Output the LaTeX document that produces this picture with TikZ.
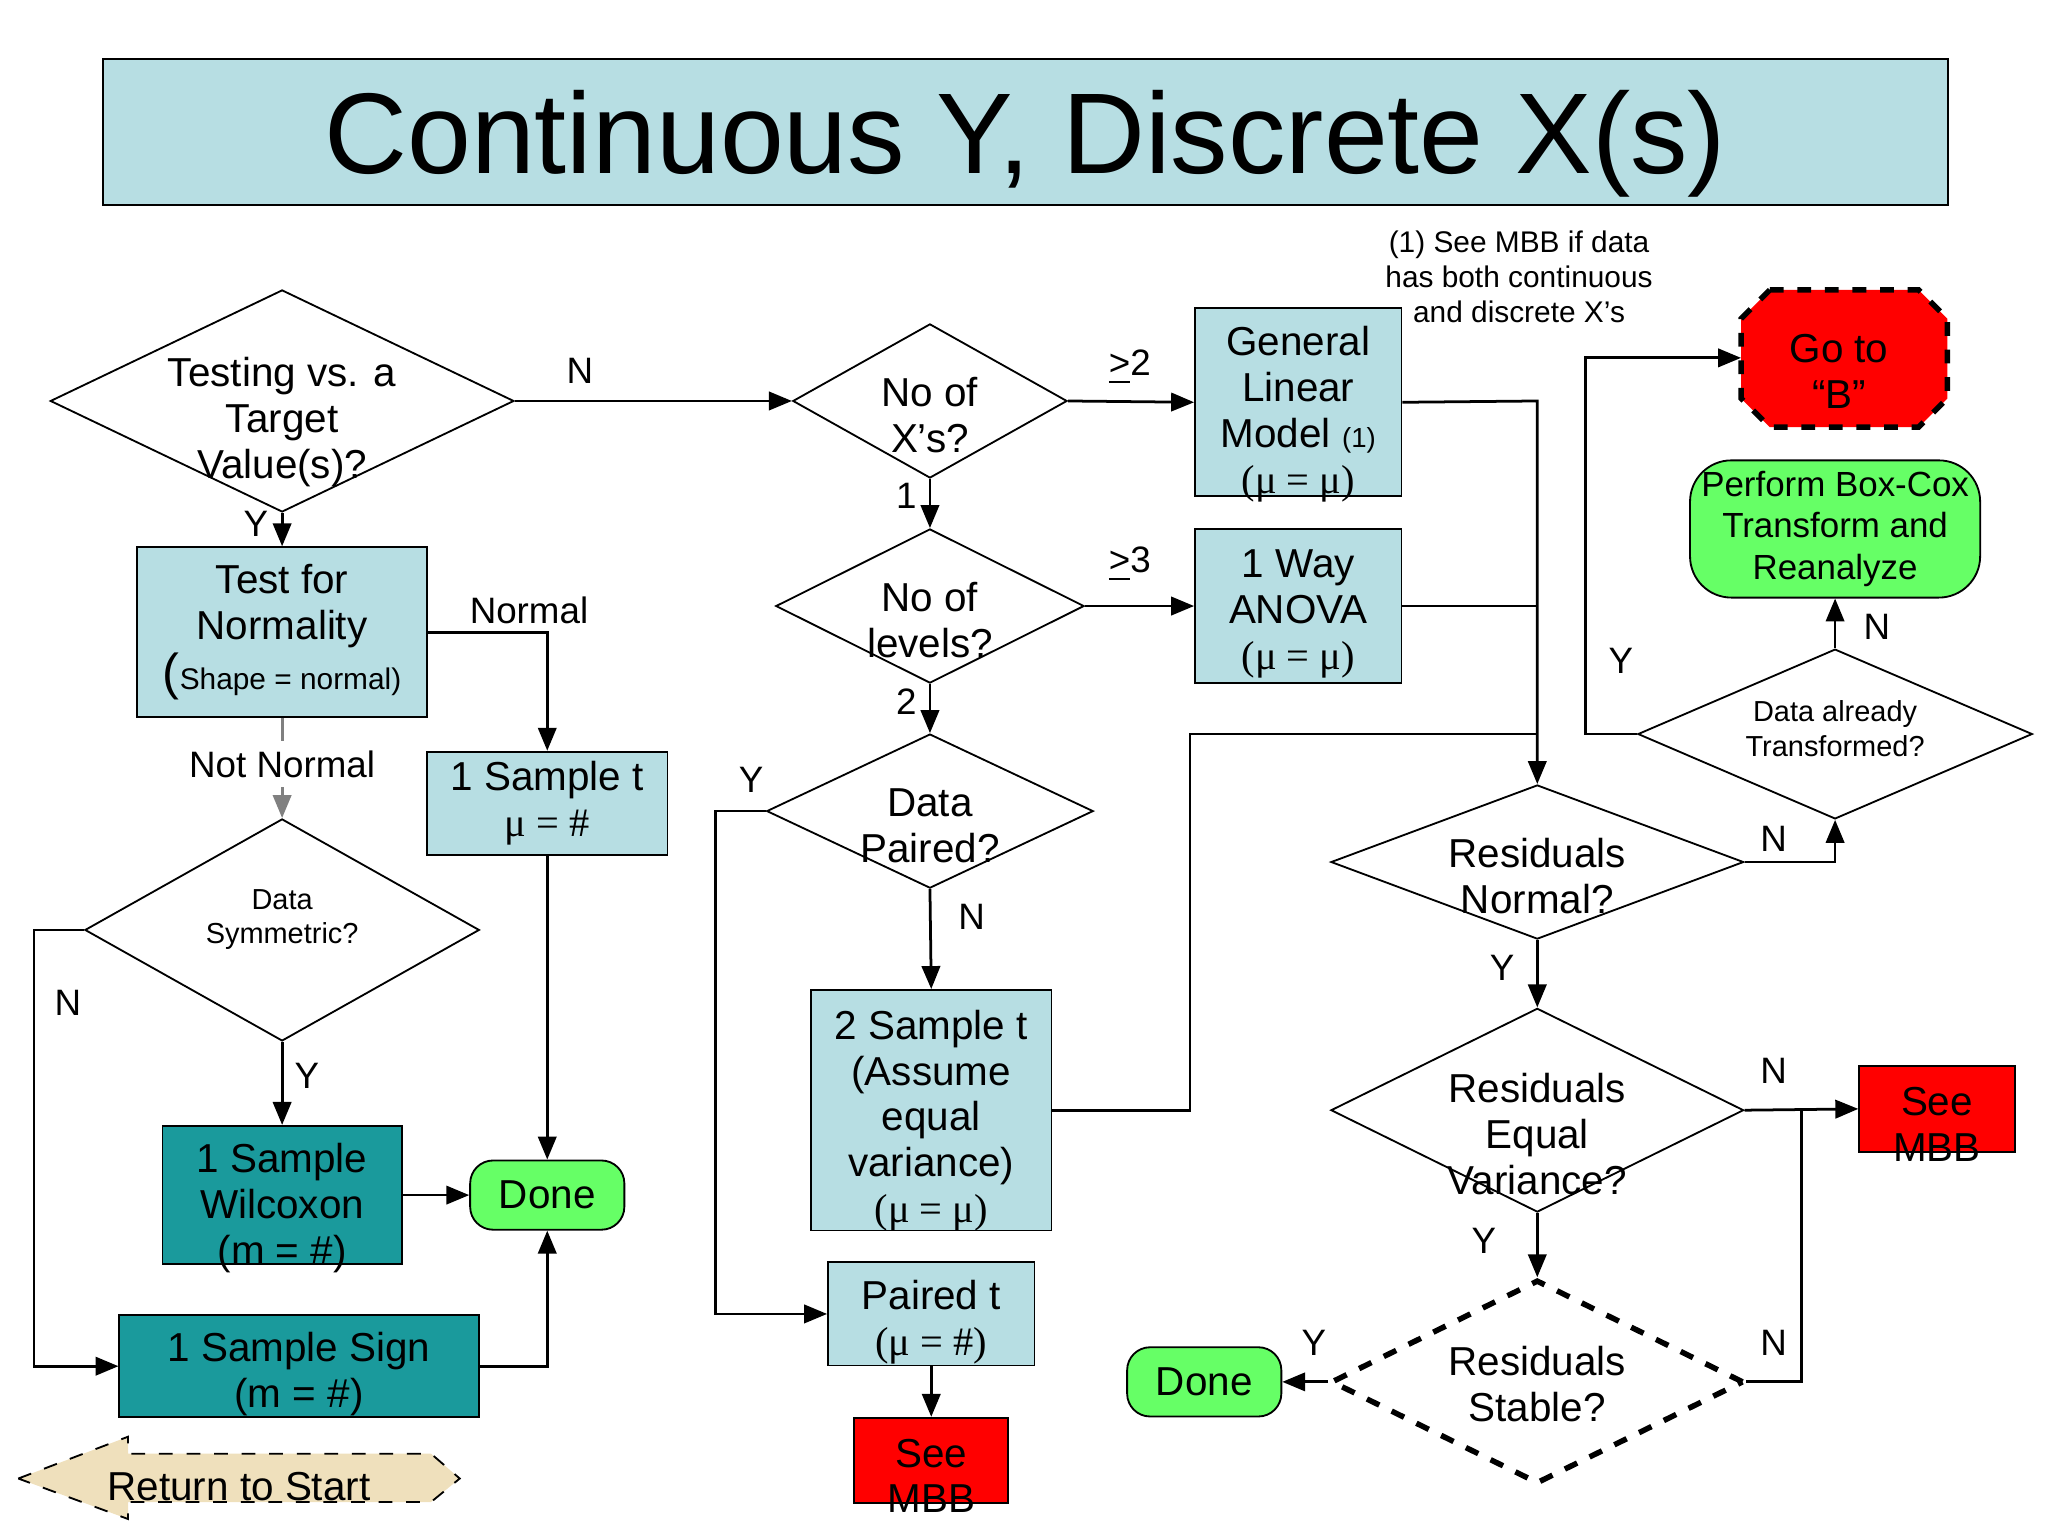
\documentclass[tikz,border=0pt]{standalone}
\usepackage{fontspec}
\setmainfont{Liberation Sans}
\newfontfamily\ser{Liberation Serif}
\usetikzlibrary{shapes.geometric,shapes.misc,arrows.meta}
\definecolor{lb}{HTML}{B7DEE3}
\definecolor{tl}{HTML}{1A9A9C}
\definecolor{gr}{HTML}{66FF66}
\definecolor{tan}{HTML}{EFE0BC}
\newcommand{\mymu}{{\ser(μ = μ)}}
\begin{document}
\begin{tikzpicture}[x=0.01cm,y=-0.01cm,
  every node/.style={font=\fontsize{8.8}{10}\selectfont,align=center,inner sep=0pt},
  dia/.style args={#1x#2}{draw,diamond,minimum width=#1*0.01cm,minimum height=#2*0.01cm,fill=white},
  sm/.style={font=\fontsize{6.3}{7.5}\selectfont},
  ar/.style={-{Triangle[length=5pt,width=4pt]},semithick},
  ln/.style={semithick},
  lab/.style={font=\fontsize{8}{9}\selectfont}]
\useasboundingbox (0,0) rectangle (1568,1176);
% title
\node[draw,fill=lb,minimum width=14.12cm,minimum height=1.12cm] (title) at (785,101) {};
\node[font=\fontsize{25}{28}\selectfont] at (785,110) {Continuous Y, Discrete X(s)};
% left column
\node[dia=355x170] (d1) at (216,307) {};
\node at (216,323) {Testing vs. a\\Target\\Value(s)?};
\node[draw,fill=lb,minimum width=2.22cm,minimum height=1.30cm] (norm) at (216,484) {};
\node at (216,484) {Test for\\Normality\\[1pt]{\fontsize{11}{12}\selectfont(}{\fontsize{6.5}{8}\selectfont Shape = normal)}};
\node[draw,fill=lb,minimum width=1.84cm,minimum height=0.79cm] (ost) at (419,615) {1 Sample t\\{\ser μ = \#}};
\node[dia=302x170] (d2) at (216,712) {};
\node[sm] at (216,704) {Data\\Symmetric?};
\node[draw,fill=tl,minimum width=1.83cm,minimum height=1.06cm] (wil) at (216,915) {};
\node at (216,925) {1 Sample\\Wilcoxon\\(m = \#)};
\node[draw,fill=gr,rounded corners=5pt,minimum width=1.18cm,minimum height=0.53cm] (done1) at (419,915) {Done};
\node[draw,fill=tl,minimum width=2.75cm,minimum height=0.78cm] (sign) at (229,1046) {};
\node at (229,1052) {1 Sample Sign\\(m = \#)};
\draw[dashed,fill=tan] (14,1132) -- (98,1100) -- (98,1113) -- (330,1113) -- (352,1132) -- (330,1150) -- (98,1150) -- (98,1163) -- cycle;
\node (ret) at (183,1138) {Return to Start};
% middle column
\node[dia=210x118] (d3) at (712,307) {};
\node at (712,318) {No of\\X’s?};
\node[dia=236x118] (d4) at (712,464) {};
\node at (712,475) {No of\\levels?};
\node[dia=250x118] (d5) at (712,621) {};
\node at (712,632) {Data\\Paired?};
\node[draw,fill=lb,minimum width=1.84cm,minimum height=1.84cm] (tst) at (713,850) {};
\node at (713,858) {2 Sample t\\(Assume\\equal\\variance)\\\mymu};
\node[draw,fill=lb,minimum width=1.58cm,minimum height=0.79cm] (pt) at (713,1006) {};
\node at (713,1012) {Paired t\\{\ser(μ = \#)}};
\node[draw,fill=red,minimum width=1.18cm,minimum height=0.65cm] (mbb1) at (713,1118) {};
\node at (713,1130) {See\\MBB};
\node[draw,fill=lb,minimum width=1.58cm,minimum height=1.44cm] (glm) at (994,308) {};
\node at (994,317) {General\\Linear\\Model {\fontsize{6}{7}\selectfont(1)}\\\mymu};
\node[draw,fill=lb,minimum width=1.58cm,minimum height=1.18cm] (anova) at (994,464) {};
\node at (994,470) {1 Way\\ANOVA\\\mymu};
\node[font=\fontsize{6.5}{7.6}\selectfont] (note) at (1163,212) {(1) See MBB if data\\has both continuous\\and discrete X’s};
% right
\node[dia=316x118] (rn) at (1177,660) {};
\node at (1177,671) {Residuals\\Normal?};
\node[dia=316x156] (re) at (1177,850) {};
\node at (1177,868) {Residuals\\Equal\\Variance?};
\node[dia=316x156,dashed,very thick] (rs) at (1177,1058) {};
\node at (1177,1060) {Residuals\\Stable?};
\node[draw,fill=gr,rounded corners=5pt,minimum width=1.18cm,minimum height=0.53cm] (done2) at (922,1058) {Done};
\node[draw,fill=red,minimum width=1.19cm,minimum height=0.66cm] (mbb2) at (1483,849) {};
\node at (1483,861) {See\\MBB};
\node[dia=302x130] (dat) at (1405,562) {};
\node[sm] at (1405,558) {Data already\\Transformed?};
\node[draw,fill=gr,rounded corners=9pt,minimum width=2.22cm,minimum height=1.05cm] (bc) at (1405,405) {};
\node[font=\fontsize{7.6}{9}\selectfont] at (1405,405) {Perform Box-Cox\\Transform and\\Reanalyze};
\draw[fill=red,dashed,very thick] (1355,222) -- (1469,222) -- (1491,244) -- (1491,305) -- (1469,327) -- (1355,327) -- (1333,305) -- (1333,244) -- cycle;
\coordinate (gob) at (1333,274);
\node at (1408,284) {Go to\\“B”};
% connectors
\draw[ar] (d1.east) -- (d3.west);
\node[lab] at (444,284) {N};
\draw[ar] (d1.south) -- (norm.north);
\node[lab] at (196,401) {Y};
\draw[ar] (norm.east) -- (419,484) -- (ost.north);
\node[lab] at (405,467) {Normal};
\draw[ar,gray] (norm.south) -- (d2.north);
\node[fill=white,inner sep=2pt,lab] at (216,585) {Not Normal};
\draw[ar] (ost.south) -- (done1.north);
\draw[ar] (d2.south) -- (wil.north);
\node[lab] at (235,824) {Y};
\draw[ar] (d2.west) -- (26,712) -- (26,1046) -- (sign.west);
\node[lab] at (52,768) {N};
\draw[ar] (wil.east) -- (done1.west);
\draw[ar] (sign.east) -- (419,1046) -- (done1.south);
\draw[ar] (d3.east) -- (glm.west);
\node[lab] at (865,281) {\underline{>}2};
\draw[ar] (d3.south) -- (d4.north);
\node[lab] at (694,380) {1};
\draw[ar] (d4.east) -- (anova.west);
\node[lab] at (865,432) {\underline{>}3};
\draw[ar] (d4.south) -- (d5.north);
\node[lab] at (694,537) {2};
\draw[ar] (d5.south) -- (tst.north);
\node[lab] at (744,702) {N};
\draw[ar] (d5.west) -- (548,621) -- (548,1006) -- (pt.west);
\node[lab] at (575,597) {Y};
\draw[ar] (pt.south) -- (mbb1.north);
\draw[ar] (glm.east) -- (1177,307) -- (rn.north);
\draw[ln] (anova.east) -- (1177,464);
\draw[ln] (tst.east) -- (911,850) -- (911,562) -- (1177,562);
\draw[ar] (rn.south) -- (re.north);
\node[lab] at (1150,741) {Y};
\draw[ar] (rn.east) -- (1405,660) -- (dat.south);
\node[lab] at (1358,642) {N};
\draw[ar] (dat.north) -- (bc.south);
\node[lab] at (1437,480) {N};
\draw[ar] (dat.west) -- (1214,562) -- (1214,274) -- (gob);
\node[lab] at (1241,506) {Y};
\draw[ar] (re.east) -- (mbb2.west);
\node[lab] at (1358,820) {N};
\draw[ar] (re.south) -- (rs.north);
\node[lab] at (1136,950) {Y};
\draw[ar] (rs.west) -- (done2.east);
\node[lab] at (1006,1028) {Y};
\draw[ln] (rs.east) -- (1379,1058) -- (1379,849);
\node[lab] at (1358,1028) {N};
\end{tikzpicture}
\end{document}
